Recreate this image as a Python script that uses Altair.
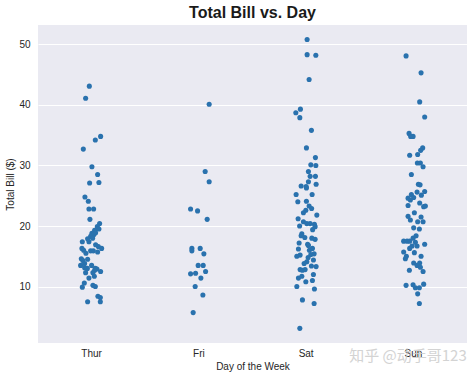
import altair as alt
import pandas as pd

days = ["Thur", "Fri", "Sat", "Sun"]

# total bill values, with the horizontal jitter (pixels at 107 px per category)
thur_bill = [43.1, 41.1, 34.8, 34.2, 32.7, 29.8, 28.5, 27.1, 27.2, 24.8, 24.1, 22.8, 22.8, 21.1,
             20.4, 19.9, 19.3, 18.8, 18.6, 18.3, 19.5, 18.9, 17.4, 17.4, 16.6, 16.3, 16.3, 16.0,
             15.9, 15.9, 15.5, 14.6, 14.3, 14.5, 13.5, 13.5, 13.1, 13.0, 13.0, 12.9, 12.5, 12.3,
             12.3, 11.4, 11.7, 10.6, 9.9, 10.2, 10.0, 8.4, 8.2, 7.5, 7.5, 18.0, 17.9, 16.9, 15.7,
             13.8, 12.7]
thur_jit = [-2.3, -6, 9, 3.7, -8.3, 0.3, 6, -2, 7.3, -6.7, -3.3, -2.7, 2, -1.7,
            8, 5.7, 3, 0.3, 2.3, -1, 7.3, 4, -9.3, -2.7, 6.7, 10, -9.7, -8,
            -1, 1.7, -5.7, -10.3, -8.7, -4, -11, 0, -7, -4.3, 3.7, 5.3, 9, 1.3,
            -6, -2.7, 2.7, -7.3, -9.3, 1.3, 3.7, 6.3, 8.7, 8.7, -4, 1, -4, 4, 6,
            -7, 3]

fri_bill = [40.1, 29.0, 27.3, 22.8, 22.5, 21.1, 16.3, 15.9, 16.3, 15.4, 13.5, 13.5, 12.1,
            12.2, 12.5, 11.4, 10.0, 8.6, 5.7]
fri_jit = [10.3, 6.3, 10.3, -8.3, -1.3, 8.3, -7, -7, 1.3, 5, -0.7, 4.3, -8.3,
           -3.3, 6.7, 2, -3.7, 4, -5.7]

sat_bill = [50.8, 48.3, 48.2, 44.2, 39.3, 38.7, 37.9, 35.8, 32.9, 31.3, 30.1, 30.0, 29.0,
            28.2, 28.2, 27.3, 26.9, 26.6, 26.5, 26.3, 25.2, 25.2, 24.0, 24.1, 22.6, 22.2,
            21.8, 20.7, 20.4, 20.4, 20.3, 19.9, 18.7, 18.1, 18.0, 17.8, 17.2, 16.8, 16.2,
            16.0, 16.3, 15.2, 15.4, 15.0, 15.3, 14.1, 14.4, 13.3, 13.4, 12.8, 12.7, 12.8,
            12.0, 11.4, 11.7, 11.0, 10.8, 10.0, 9.6, 7.8, 7.2, 3.1, 23.3, 21.2, 19.4, 18.4,
            17.0, 14.8, 13.8, 20.0, 22.9]
sat_jit = [1, 1, 9.7, 3, -5.7, -10.3, -6.3, 5.3, 0.3, 9.3, 4.7, 9.7, 2.3,
           4, 9.3, 2.3, 10, -5, 0, 0.3, 6, -10, -8.3, 0.3, -0.3, -2.7,
           10.7, -2.7, 0.7, 4, 8.3, 9, -4.3, -1.3, 5.7, 9, -7, 2.3, -7.7,
           3.3, 6.3, -6, 8, -9.3, 4.7, 0.7, 7.3, 10, 5.3, -6, -3.7, -1,
           7.3, -7.7, -4.3, 6.3, -0.3, -9.3, 8.3, -3.7, 8, -6.3, 3, -8, 6.5, -5,
           1.5, 2, -2, -6.5, 5.5]

sun_bill = [48.1, 45.3, 40.5, 38.0, 35.3, 34.8, 34.8, 32.9, 32.5, 31.7, 31.8, 30.4, 30.4,
            29.8, 28.5, 26.8, 26.9, 25.6, 25.7, 25.2, 24.6, 24.7, 25.1, 24.3, 23.8, 23.4,
            23.2, 23.3, 22.2, 21.6, 21.5, 21.0, 20.7, 20.7, 19.7, 19.5, 18.0, 18.4, 17.5,
            17.5, 17.5, 17.3, 16.7, 17.0, 16.7, 16.3, 15.7, 15.6, 15.0, 14.6, 15.0, 13.9,
            13.9, 13.5, 13.2, 12.7, 12.5, 10.2, 10.3, 10.4, 9.8, 9.8, 8.8, 7.2]
sun_jit = [-7.3, 7.7, 6.3, 11.3, -4.3, -2.7, -0.3, 9.3, 7.3, -3.7, 4.3, 4, 7,
           9.7, -2, 6.7, 5, 3.7, 11.3, -2, -5.3, 0.3, 8, -3, 6.3, -5.3,
           10.3, 12, 1, -5.3, 7.7, -3, 4.3, 9.7, 0.3, 6, -0.3, 2.7, -9.7,
           -6.3, -3.7, 2, -1.3, 11.3, 3.7, -3.7, -9.7, 1, -7, -8, 7.7, 0.3,
           6.3, 3.7, 7, -4, 9.7, -7.3, -0.3, 10.3, 2, 6, 4.3, 6]

bills = [thur_bill, fri_bill, sat_bill, sun_bill]
jits = [thur_jit, fri_jit, sat_jit, sun_jit]

rows = []
for d, b, j in zip(days, bills, jits):
    for v, o in zip(b, j):
        rows.append({"day": d, "total": v, "jit": o / 107.25})
df = pd.DataFrame(rows)

W, H = 429, 318
FONT = "Liberation Sans"

points = alt.Chart(df).mark_circle(size=26, opacity=1, color="#2a72ae").encode(
    x=alt.X("day:N", sort=days,
            scale=alt.Scale(domain=days, paddingInner=0, paddingOuter=0),
            axis=alt.Axis(title="Day of the Week", labelAngle=0, grid=False, domain=False,
                          ticks=False, labelPadding=5, titlePadding=3)),
    xOffset=alt.XOffset("jit:Q", scale=alt.Scale(domain=[-0.5, 0.5])),
    y=alt.Y("total:Q", scale=alt.Scale(domain=[0.68, 53.2], nice=False, zero=False),
            axis=alt.Axis(title="Total Bill ($)", values=[10, 20, 30, 40, 50], grid=True,
                          gridColor="white", gridWidth=1, domain=False, ticks=False,
                          labelPadding=8, titlePadding=3)),
)

mark_df = pd.DataFrame({"t": ["知乎 @动手哥123"]})
watermark = alt.Chart(mark_df).mark_text(
    font="Noto Sans CJK SC", fontSize=15, color="#cfcfcf", align="center", baseline="middle",
    opacity=0.9
).encode(text="t:N", x=alt.value(370), y=alt.value(331))

chart = alt.layer(points, watermark).properties(
    width=W, height=H,
    background="white",
    title=alt.TitleParams("Total Bill vs. Day", fontSize=16, fontWeight="bold", font=FONT,
                          color="#1a1a1a", anchor="middle", offset=4),
    autosize=alt.AutoSizeParams(type="none"),
    padding={"left": 38, "top": 25, "right": 7, "bottom": 35},
).configure_view(fill="#eaeaf2", strokeWidth=0).configure_axis(
    labelFont=FONT, titleFont=FONT, labelFontSize=10, titleFontSize=10,
    labelColor="#262626", titleColor="#262626", titleFontWeight="normal"
)

chart.save("out.html", embed_options={"renderer": "svg", "actions": False})
